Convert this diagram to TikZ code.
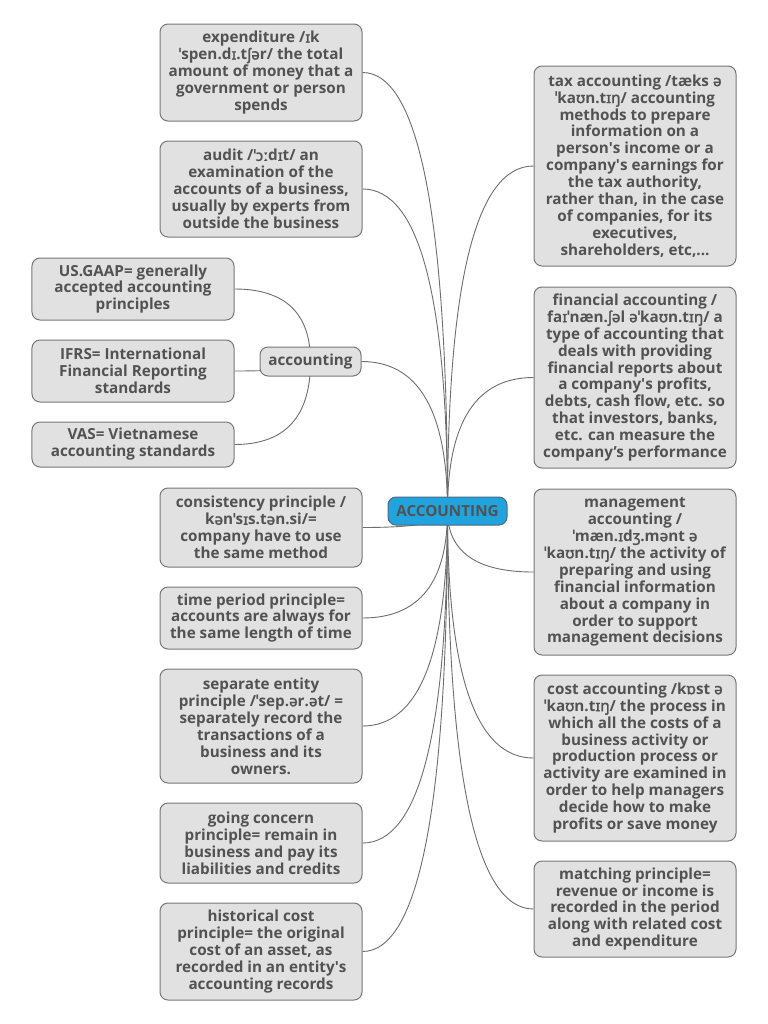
\documentclass[tikz,border=0pt]{standalone}
\usepackage{fontspec}
\setmainfont{Open Sans}
\newfontfamily\ipafont{Noto Sans}[BoldFont={Noto Sans}, BoldFeatures={FakeBold=1.6}]
\newcommand\ip[1]{{\ipafont #1}}
\usetikzlibrary{calc,backgrounds}
\definecolor{boxfill}{HTML}{E1E1E1}
\definecolor{boxline}{HTML}{777777}
\definecolor{txt}{HTML}{525252}
\definecolor{rootfill}{HTML}{21A3DD}
\definecolor{rootline}{HTML}{4D6A7E}
\definecolor{linecol}{HTML}{6E6E6E}
\tikzset{
  topic/.style={draw=boxline, fill=boxfill, line width=1bp, rounded corners=8bp,
    text=txt, align=center, inner sep=0pt, minimum width=202bp,
    font=\bfseries\fontsize{15.3}{17}\selectfont},
  sub/.style={topic, minimum width=101bp, minimum height=29bp},
  rootbox/.style={topic, fill=rootfill, draw=rootline, minimum width=119bp, minimum height=28bp},
  conn/.style={draw=linecol, line width=0.9bp}
}
\newcommand\conn[2]{\draw[conn] (#1) .. controls ($(#1)!0.667!(#1|-#2)$) and ($(#2)!0.667!(#1|-#2)$) .. (#2);}
\begin{document}
\begin{tikzpicture}[x=1bp,y=-1bp]
\useasboundingbox (0,0) rectangle (768,1024);
\node[rootbox] (root) at (447.5,511) {ACCOUNTING};
\node[topic, minimum height=97bp] (exp) at (261,72.5) {expenditure /\ip{ɪ}k\\\ip{ˈ}spen.d\ip{ɪ}.t\ip{ʃə}r/ the total\\amount of money that a\\government or person\\spends};
\node[topic, minimum height=96bp] (aud) at (261,189) {audit /\ip{ˈɔː}d\ip{ɪ}t/ an\\examination of the\\accounts of a business,\\usually by experts from\\outside the business};
\node[sub] (acc) at (310.5,361.5) {accounting};
\node[topic, minimum height=62bp] (gaap) at (133,289) {US.GAAP= generally\\accepted accounting\\principles};
\node[topic, minimum height=62bp] (ifrs) at (133,371) {IFRS= International\\Financial Reporting\\standards};
\node[topic, minimum height=45bp] (vas) at (133,444.5) {VAS= Vietnamese\\accounting standards};
\node[topic, minimum height=79bp] (cons) at (261,527.5) {consistency principle /\\k\ip{ə}n\ip{ˈ}s\ip{ɪ}s.t\ip{ə}n.si/=\\company have to use\\the same method};
\node[topic, minimum height=62bp] (time) at (261,618) {time period principle=\\accounts are always for\\the same length of time};
\node[topic, minimum height=114bp] (sep) at (261,726) {separate entity\\principle /\ip{ˈ}sep.\ip{ə}r.\ip{ə}t/ =\\separately record the\\transactions of a\\business and its\\owners.};
\node[topic, minimum height=80bp] (going) at (261,843) {going concern\\principle= remain in\\business and pay its\\liabilities and credits};
\node[topic, minimum height=97bp] (hist) at (261,951.5) {historical cost\\principle= the original\\cost of an asset, as\\recorded in an entity\textquotesingle s\\accounting records};
\node[topic, minimum height=200bp] (tax) at (635,166) {tax accounting /tæks \ip{ə}\\\ip{ˈ}ka\ip{ʊ}n.t\ip{ɪŋ}/ accounting\\methods to prepare\\information on a\\person\textquotesingle s income or a\\company\textquotesingle s earnings for\\the tax authority,\\rather than, in the case\\of companies, for its\\executives,\\shareholders, etc,...};
\node[topic, minimum height=181bp] (fin) at (635,377.5) {financial accounting /\\fa\ip{ɪˈ}næn.\ip{ʃə}l \ip{əˈ}ka\ip{ʊ}n.t\ip{ɪŋ}/ a\\type of accounting that\\deals with providing\\financial reports about\\a company\textquotesingle s profits,\\debts, cash flow, etc. so\\that investors, banks,\\etc. can measure the\\company’s performance};
\node[topic, minimum height=166bp] (man) at (635,572) {management\\accounting /\\\ip{ˈ}mæn.\ip{ɪ}d\ip{ʒ}.m\ip{ə}nt \ip{ə}\\\ip{ˈ}ka\ip{ʊ}n.t\ip{ɪŋ}/ the activity of\\preparing and using\\financial information\\about a company in\\order to support\\management decisions};
\node[topic, minimum height=166bp] (cost) at (635,758) {cost accounting /k\ip{ɒ}st \ip{ə}\\\ip{ˈ}ka\ip{ʊ}n.t\ip{ɪŋ}/ the process in\\which all the costs of a\\business activity or\\production process or\\activity are examined in\\order to help managers\\decide how to make\\profits or save money};
\node[topic, minimum height=96bp] (match) at (635,909) {matching principle=\\revenue or income is\\recorded in the period\\along with related cost\\and expenditure};
\begin{pgfonlayer}{background}
\fill[white] (0,0) rectangle (768,1024);
\conn{root.center}{exp.east}
\conn{root.center}{aud.east}
\conn{root.center}{acc.east}
\conn{root.center}{cons.east}
\conn{root.center}{time.east}
\conn{root.center}{sep.east}
\conn{root.center}{going.east}
\conn{root.center}{hist.east}
\conn{root.center}{tax.west}
\conn{root.center}{fin.west}
\conn{root.center}{man.west}
\conn{root.center}{cost.west}
\conn{root.center}{match.west}
\conn{acc.center}{gaap.east}
\conn{acc.center}{ifrs.east}
\conn{acc.center}{vas.east}
\end{pgfonlayer}
\end{tikzpicture}
\end{document}
